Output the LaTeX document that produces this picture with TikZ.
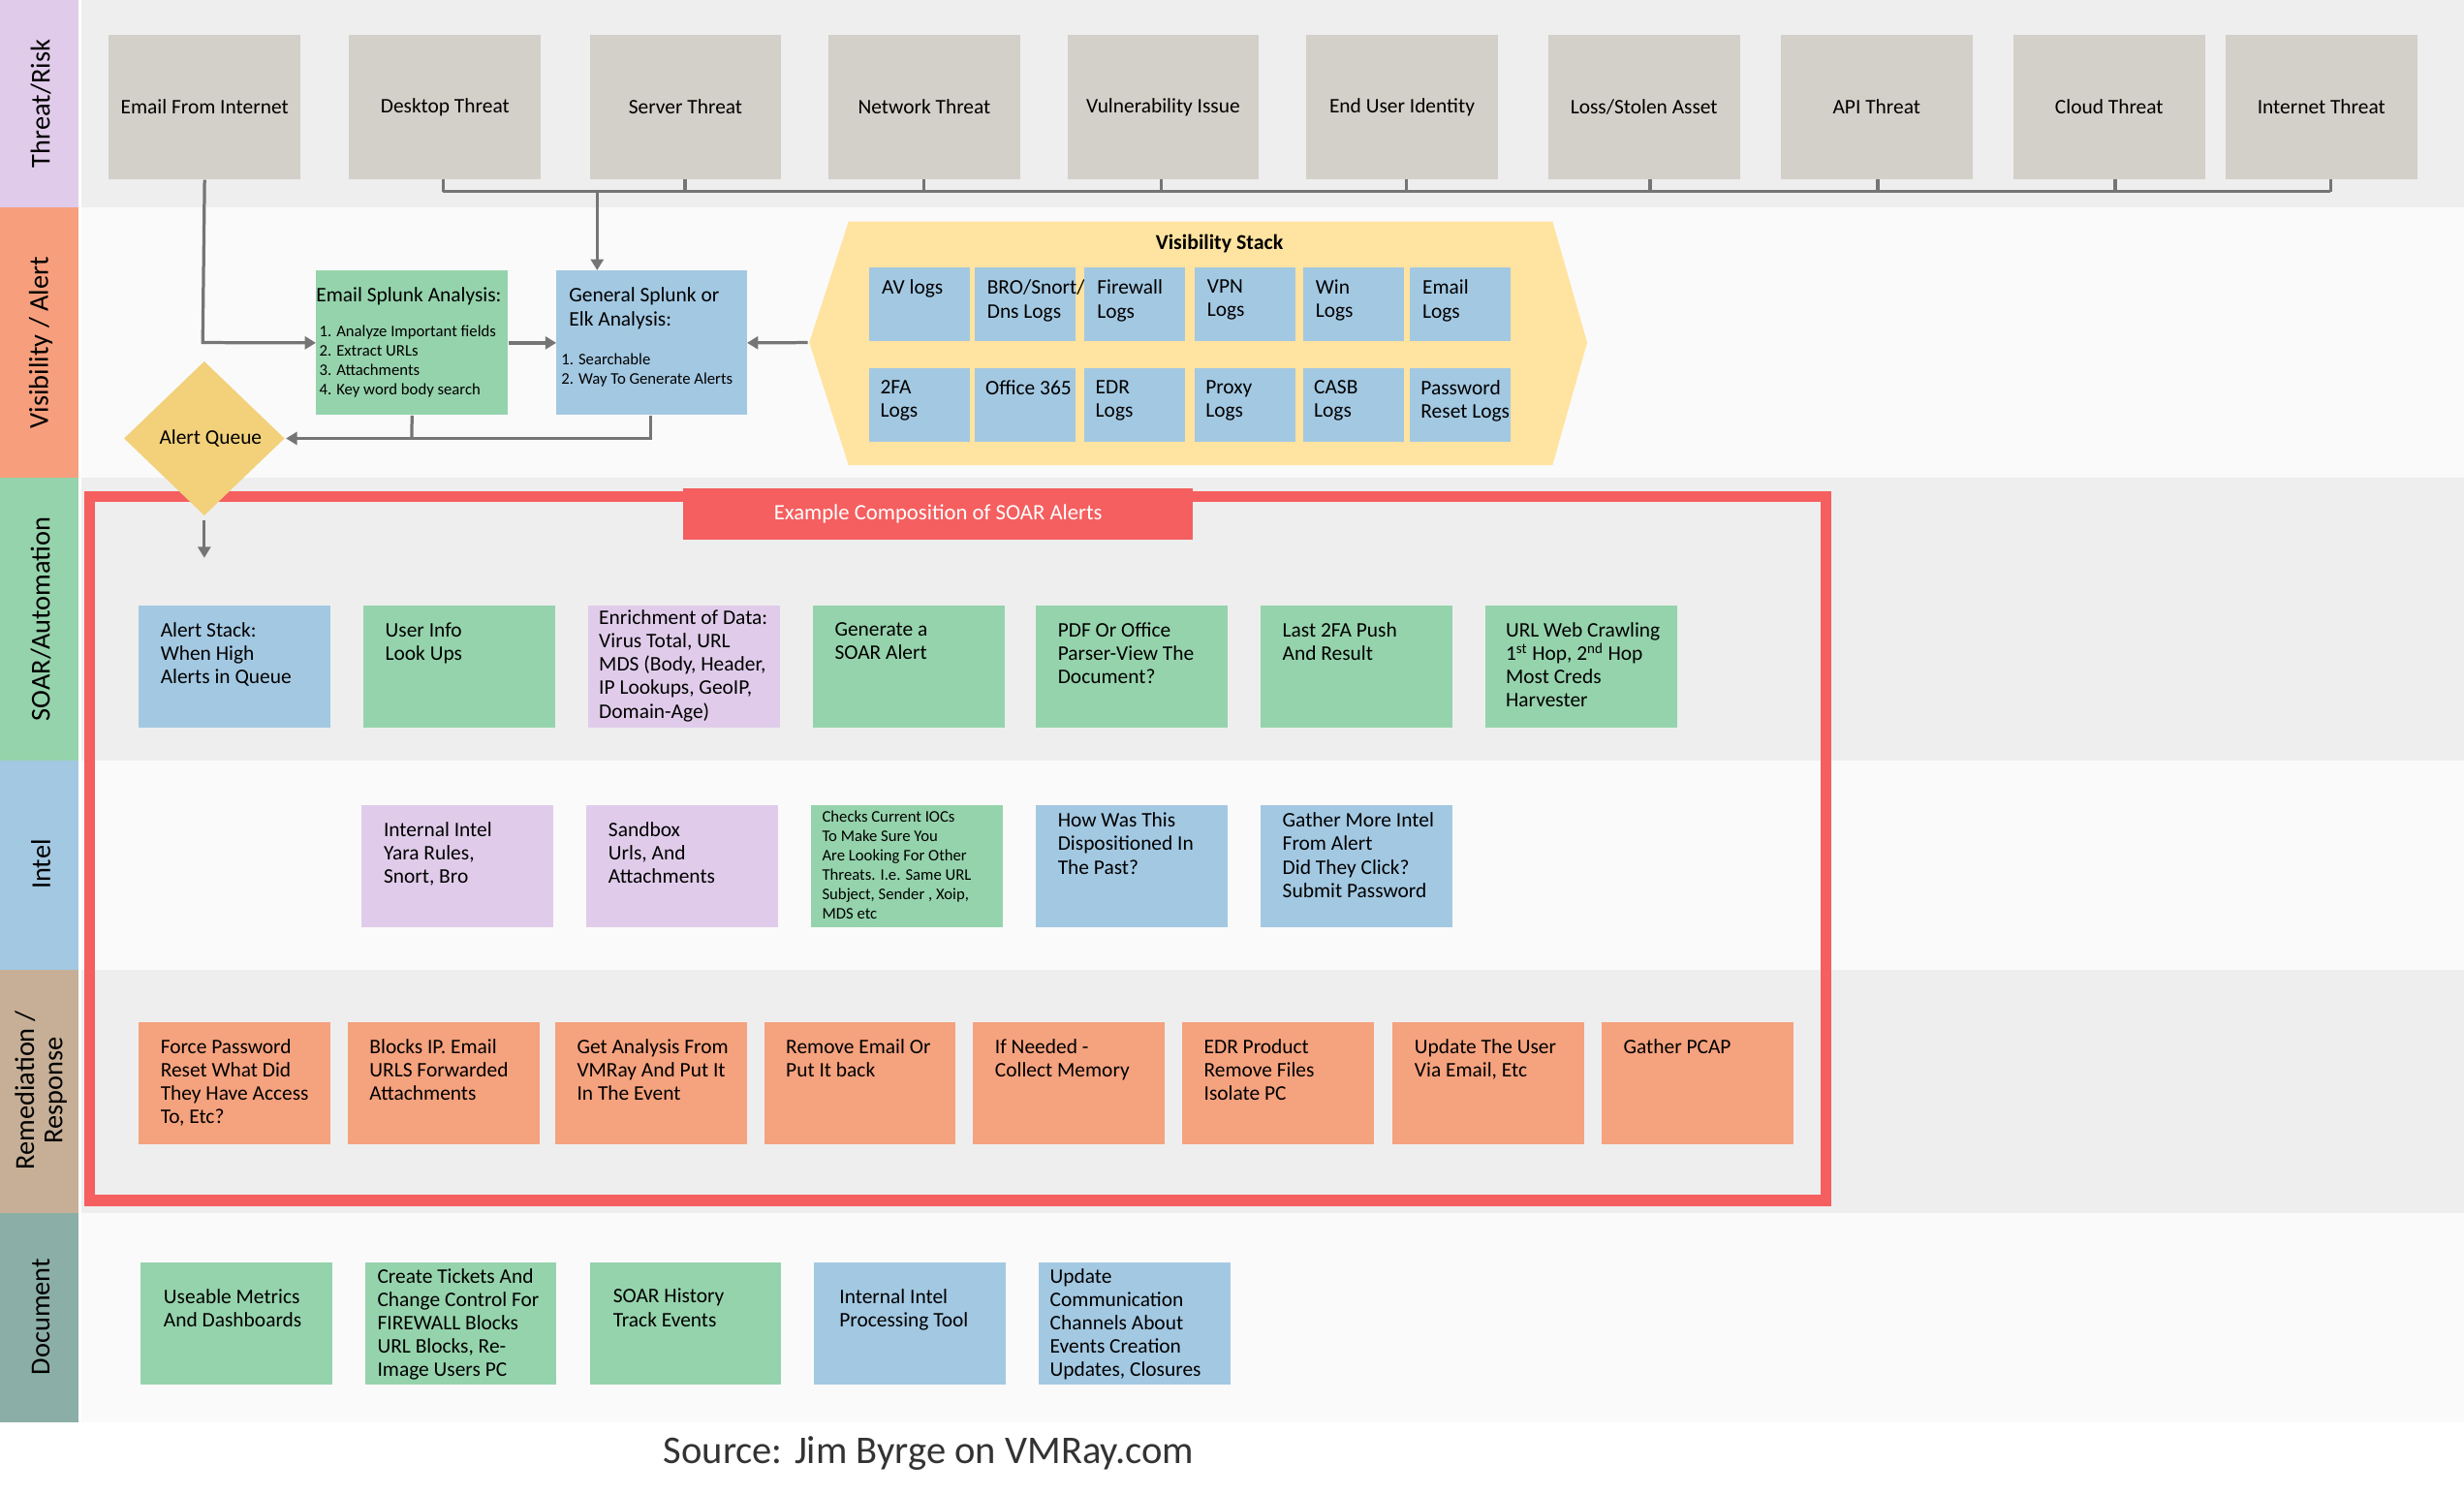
\documentclass[tikz,border=0pt]{standalone}
\usepackage{fontspec}
\setmainfont{Carlito}
\usetikzlibrary{arrows.meta}
\definecolor{lgrey}{HTML}{EEEEEE}
\definecolor{lwhite}{HTML}{FAFAFA}
\definecolor{tgrey}{HTML}{D3CFC9}
\definecolor{cgreen}{HTML}{95D3AC}
\definecolor{cblue}{HTML}{A3C8E2}
\definecolor{clav}{HTML}{E0CCEA}
\definecolor{corange}{HTML}{F5A27E}
\definecolor{csalmon}{HTML}{F79F7D}
\definecolor{ctan}{HTML}{C6AF96}
\definecolor{cteal}{HTML}{8BAFA6}
\definecolor{cyel}{HTML}{FFE3A0}
\definecolor{cdia}{HTML}{F2D17A}
\definecolor{cred}{HTML}{F55F5F}
\definecolor{cline}{HTML}{757575}
\begin{document}
\begin{tikzpicture}[x=1pt,y=-1pt,
  box/.style={draw=none,anchor=north west,minimum width=122pt,minimum height=78pt,inner sep=0},
  sbox/.style={draw=none,anchor=north west,minimum width=64pt,minimum height=47pt,inner sep=0,fill=cblue},
  txt/.style={anchor=north west,align=left,inner sep=0,font=\fontsize{13.2}{14.9}\selectfont},
  lane/.style={rotate=90,font=\fontsize{17.5}{17}\selectfont,align=center},
  conn/.style={draw=cline,line width=2pt},
  arr/.style={conn,-{Triangle[length=7pt,width=8pt]}}]
\useasboundingbox (0,0) rectangle (1568,951);
\fill[white] (0,0) rectangle (1568,951);
% lanes
\foreach \a/\b/\c/\d in {0/132/clav/lgrey,132/304/csalmon/lwhite,304/484/cgreen/lgrey,484/617/cblue/lwhite,617/772/ctan/lgrey,772/905/cteal/lwhite}{
  \fill[\c] (0,\a) rectangle (50,\b);
  \fill[\d] (52,\a) rectangle (1568,\b);}
\node[lane] (l1) at (26,66) {Threat/Risk};
\node[lane] (l2) at (26,218) {Visibility / Alert};
\node[lane] (l3) at (26,394) {SOAR/Automation};
\node[lane] (l4) at (26,550) {Intel};
\node[lane,font=\fontsize{17.5}{18}\selectfont] (l5) at (26,694) {Remediation /\\Response};
\node[lane] (l6) at (26,838) {Document};
% top boxes
\foreach \n/\x/\t in {t1/69/Email From Internet,t2/222/Desktop Threat,t3/375/Server Threat,t4/527/Network Threat,t5/679/Vulnerability Issue,t6/831/End User Identity,t7/985/{Loss/Stolen Asset},t8/1133/API Threat,t9/1281/Cloud Threat,t10/1416/Internet Threat}{
  \node[box,fill=tgrey,minimum height=92pt,font=\fontsize{13.2}{14}\selectfont] (\n) at (\x,22) {\t};}
\coordinate (busL) at (282,122); \coordinate (busR) at (1483,122);
\draw[conn] (busL) -- (busR);
\foreach \n/\x in {t2/282,t3/436,t4/588,t5/739,t6/895,t7/1050,t8/1195,t9/1346,t10/1483}{
  \draw[conn] (\x,114) -- (\x,122);}
% visibility
\node[box,fill=cgreen,minimum height=92pt] (es) at (201,172) {};
\node[txt] at (201,183) {Email Splunk Analysis:};
\node[txt,font=\fontsize{10.3}{12.3}\selectfont] at (203,207) {1. Analyze Important fields\\2. Extract URLs\\3. Attachments\\4. Key word body search};
\node[box,fill=cblue,minimum height=92pt,minimum width=121pt] (gs) at (354,172) {};
\node[txt] at (362,183) {General Splunk or\\Elk Analysis:};
\node[txt,font=\fontsize{10.3}{12.3}\selectfont] at (357,225) {1. Searchable\\2. Way To Generate Alerts};
\draw[arr] (t1.south) -- (129,218) -- (es.west);
\draw[arr] (380,122) -- (gs.north -| 380,0);
\draw[arr] (es.east) -- (gs.west);
\fill[cyel] (515,218) -- (540,141) -- (988,141) -- (1010,218) -- (988,296) -- (540,296) -- cycle;
\coordinate (hexL) at (514,218);
\node[font=\bfseries\fontsize{13.5}{14}\selectfont] (vs) at (776,155) {Visibility Stack};
\draw[arr] (hexL) -- (gs.east);
\foreach \n/\x/\t in {a1/553/AV logs,a2/620/{BRO/Snort/\\Dns Logs},a3/690/{Firewall\\Logs},a4/760/{VPN\\Logs},a5/829/{Win\\Logs},a6/897/{Email\\Logs}}{
  \node[sbox] (\n) at (\x,170) {}; \node[txt] at (\x+8,178) {\t};}
\foreach \n/\x/\t in {b1/553/{2FA\\Logs},b2/620/Office 365,b3/690/{EDR\\Logs},b4/760/{Proxy\\Logs},b5/829/{CASB\\Logs},b6/897/{Password\\Reset Logs}}{
  \node[sbox] (\n) at (\x,234) {}; \node[txt] at (\x+7,242) {\t};}
% red frame
\draw[cred,line width=7pt] (57,316) rectangle (1162,764);
\node[fill=cred,text=white,minimum width=324pt,minimum height=33pt,inner sep=0,font=\fontsize{14}{14}\selectfont] (ttl) at (597,327) {Example Composition of SOAR Alerts};
% diamond
\fill[cdia] (79,279) -- (130,230) -- (181,279) -- (130,328) -- cycle;
\node[font=\fontsize{13.2}{14}\selectfont] (dqt) at (134,279) {Alert Queue};
\coordinate (dqR) at (182,279); \coordinate (dqB) at (130,331);
\draw[conn] (es.south) -- (262,279);
\draw[arr] (gs.south -| 414,0) -- (414,279) -- (dqR);
\draw[arr] (dqB) -- (130,355);
% SOAR row
\foreach \n/\x/\c in {s1/88/cblue,s2/231/cgreen,s3/374/clav,s4/517/cgreen,s5/659/cgreen,s6/802/cgreen,s7/945/cgreen}{
  \node[box,fill=\c] (\n) at (\x,385) {};}
\foreach \x/\t in {102/{Alert Stack:\\When High\\Alerts in Queue},245/{User Info\\Look Ups},531/{Generate a\\SOAR Alert},673/{PDF Or Office\\Parser-View The\\Document?},816/{Last 2FA Push\\And Result},958/{URL Web Crawling\\1\textsuperscript{st} Hop, 2\textsuperscript{nd} Hop\\Most Creds\\Harvester}}{
  \node[txt] at (\x,396) {\t};}
\node[txt] at (381,388) {Enrichment of Data:\\Virus Total, URL\\MDS (Body, Header,\\IP Lookups, GeoIP,\\Domain-Age)};
% Intel row
\node[box,fill=clav] (i1) at (230,512) {};
\node[txt] at (244,523) {Internal Intel\\Yara Rules,\\Snort, Bro};
\node[box,fill=clav] (i2) at (373,512) {};
\node[txt] at (387,523) {Sandbox\\Urls, And\\Attachments};
\node[box,fill=cgreen] (i3) at (516,512) {};
\node[txt,font=\fontsize{10.3}{12.3}\selectfont] at (523,516) {Checks Current IOCs\\To Make Sure You\\Are Looking For Other\\Threats. I.e. Same URL\\Subject, Sender , Xoip,\\MDS etc};
\node[box,fill=cblue] (i4) at (659,512) {};
\node[txt] at (673,517) {How Was This\\Dispositioned In\\The Past?};
\node[box,fill=cblue] (i5) at (802,512) {};
\node[txt] at (816,517) {Gather More Intel\\From Alert\\Did They Click?\\Submit Password};
% Remediation
\foreach \n/\x/\t in {r1/88/{Force Password\\Reset What Did\\They Have Access\\To, Etc?},r2/221/{Blocks IP. Email\\URLS Forwarded\\Attachments},r3/353/{Get Analysis From\\VMRay And Put It\\In The Event},r4/486/{Remove Email Or\\Put It back},r5/619/{If Needed -\\Collect Memory},r6/752/{EDR Product\\Remove Files\\Isolate PC},r7/886/{Update The User\\Via Email, Etc},r8/1019/{Gather PCAP}}{
  \node[box,fill=corange] (\n) at (\x,650) {}; \node[txt] at (\x+14,661) {\t};}
% Document
\foreach \n/\x/\c in {d1/89/cgreen,d2/232/cgreen,d3/375/cgreen,d4/518/cblue,d5/661/cblue}{
  \node[box,fill=\c] (\n) at (\x,803) {};}
\node[txt] at (104,820) {Useable Metrics\\And Dashboards};
\node[txt] at (240,807) {Create Tickets And\\Change Control For\\FIREWALL Blocks\\URL Blocks, Re-\\Image Users PC};
\node[txt] at (390,820) {SOAR History\\Track Events};
\node[txt] at (534,820) {Internal Intel\\Processing Tool};
\node[txt] at (668,807) {Update\\Communication\\Channels About\\Events Creation\\Updates, Closures};
\node[font=\fontsize{25}{26}\selectfont,text=black!80] (src) at (591,925) {Source: Jim Byrge on VMRay.com};
\end{tikzpicture}
\end{document}
